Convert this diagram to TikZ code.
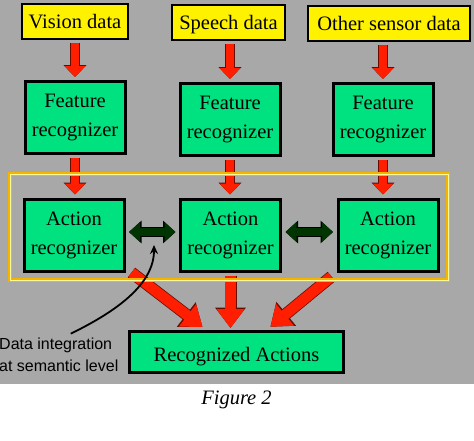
\documentclass[tikz,border=0pt]{standalone}
\usepackage{fontspec}
\setmainfont{Liberation Serif}
\setsansfont{Liberation Sans}
\usetikzlibrary{arrows.meta}
\definecolor{bg}{RGB}{168,168,168}
\definecolor{boxgreen}{RGB}{0,226,128}
\definecolor{flowred}{RGB}{255,30,0}
\definecolor{linkgreen}{RGB}{0,52,0}
\definecolor{frameorange}{RGB}{245,180,0}
\begin{document}
\begin{tikzpicture}[x=1pt,y=-1pt,
    databox/.style={draw, line width=2pt, fill=yellow, minimum height=35pt,
      inner xsep=7pt, inner ysep=0pt, text height=14pt, text depth=0pt,
      font=\fontsize{20.5}{24}\selectfont},
    recbox/.style={draw, line width=3pt, fill=boxgreen, minimum width=100pt,
      minimum height=72pt, inner sep=0pt, align=center,
      font=\fontsize{20.5}{29}\selectfont, execute at begin node={\rule{0pt}{23pt}}},
    flow/.style={flowred, line width=8.5pt, -{Triangle[width=20pt,length=11pt]},
      shorten <=3pt, shorten >=3pt,
      preaction={draw=flowred!40!black, line width=10pt, -{Triangle[width=22.5pt,length=12pt]}}},
    merge/.style={flowred, line width=10.5pt, -{Triangle[width=27pt,length=19pt]},
      preaction={draw=flowred!40!black, line width=12pt, -{Triangle[width=29.5pt,length=20.5pt]}}},
    link/.style={linkgreen, line width=8pt,
      {Triangle[width=19pt,length=11pt]}-{Triangle[width=19pt,length=11pt]},
      shorten <=3.5pt, shorten >=3.5pt,
      preaction={draw=black, line width=10pt,
        {Triangle[width=22pt,length=12.5pt]}-{Triangle[width=22pt,length=12.5pt]}}},
    note/.style={align=left, inner sep=0pt, font=\sffamily\fontsize{16}{22.5}\selectfont}]
  \useasboundingbox (0,0) rectangle (474,440);
  \fill[bg] (0,0) rectangle (474,384);

  \node[databox] (y1) at (75,21.5) {Vision data};
  \node[databox] (y2) at (228.5,22.5) {Speech data};
  \node[databox, minimum width=162pt] (y3) at (389,23.5) {Other sensor data};

  \node[recbox] (f1) at (75,117.5) {Feature\\recognizer};
  \node[recbox] (f2) at (230,119.5) {Feature\\recognizer};
  \node[recbox] (f3) at (383,119.5) {Feature\\recognizer};

  \node[recbox] (a1) at (74,235) {Action\\recognizer};
  \node[recbox] (a2) at (230.5,235) {Action\\recognizer};
  \node[recbox] (a3) at (388,235) {Action\\recognizer};

  \node[recbox, minimum width=214pt, minimum height=41pt] (r) at (236.5,352) {Recognized Actions};

  \foreach \i in {1,2,3} {
    \draw[flow] (f\i.north |- y\i.south) -- (f\i.north);
    \draw[flow] (f\i.south) -- (f\i.south |- a\i.north);
  }
  \draw[link] ([yshift=3pt]a1.east) -- ([yshift=3pt]a2.west);
  \draw[link] ([yshift=3pt]a2.east) -- ([yshift=3pt]a3.west);

  \draw[merge, shorten >=5pt] ([xshift=6pt]a1.south east) -- ([xshift=-30pt]r.north);
  \draw[merge, shorten <=3pt, shorten >=2pt] (a2.south) -- (a2.south |- r.north);
  \draw[merge, shorten >=5pt] ([xshift=-5pt,yshift=-4pt]a3.south west) -- ([xshift=30pt]r.north);

  \draw[frameorange, line width=1.6pt, double=yellow!40, double distance=0.9pt] (10,174) rectangle (448,280);

  \node[note, anchor=west] (dat) at (-1,355) {Data integration\\at semantic level};
  \coordinate (integ) at (154,245);
  \draw[line width=1.8pt, -{Stealth[length=9pt,width=8pt]}]
    ([xshift=12pt,yshift=4pt]dat.north) .. controls (115,312) and (154,285) .. (integ);

  \node[font=\itshape\fontsize{20.5}{24}\selectfont] (cap) at (236.5,400) {Figure 2};
\end{tikzpicture}
\end{document}
